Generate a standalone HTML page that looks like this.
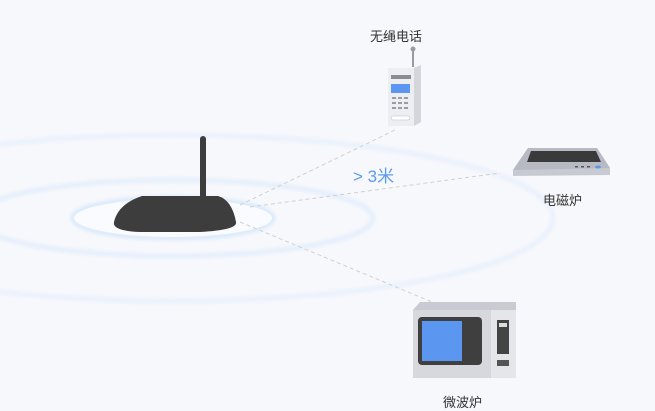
<!DOCTYPE html>
<html><head><meta charset="utf-8"><style>
html,body{margin:0;padding:0;background:#f7f8fc;}
body{width:655px;height:410px;overflow:hidden;position:relative;font-family:"Liberation Sans","Noto Sans CJK SC",sans-serif;}
.l{position:absolute;font-size:13px;color:#333;}
</style></head><body>
<svg width="655" height="410" style="position:absolute;left:0;top:0">
<defs>
<filter id="b" x="-20%" y="-50%" width="140%" height="200%"><feGaussianBlur stdDeviation="2"/></filter>
</defs>
<g fill="none" filter="url(#b)">
<ellipse cx="173" cy="218" rx="380" ry="83" stroke="#e0edfb" stroke-width="3"/>
<ellipse cx="173" cy="218" rx="200" ry="38" stroke="#d8e9fb" stroke-width="3"/>
<ellipse cx="173" cy="218" rx="100" ry="20" stroke="#c6e0f9" stroke-width="3"/>
</g>
<ellipse cx="173" cy="218" rx="99" ry="19" fill="#f9fbfe"/>
<g stroke="#d0d0d0" stroke-dasharray="4,3" stroke-width="1">
<line x1="240" y1="205" x2="395" y2="130"/>
<line x1="250" y1="207" x2="500" y2="173"/>
<line x1="240" y1="222" x2="432" y2="302"/>
</g>
<!-- router -->
<rect x="200" y="136" width="6" height="66" rx="3" fill="#3d3d3d"/>
<path d="M142 196 L218 196 Q232 200 236 222 Q238 230 200 232 L140 232 Q112 231 114 222 Q118 204 142 196Z" fill="#3d3d3d"/>
<!-- phone -->
<rect x="412" y="49" width="2" height="18" fill="#9a9aa4"/><circle cx="413" cy="49" r="2.5" fill="#9a9aa4"/>
<path d="M388 68 L414 68 L421 65 L421 122 L414 126 L388 126Z" fill="#d4d6dc"/>
<rect x="388" y="68" width="26" height="58" fill="#eceef2"/>
<rect x="391" y="75" width="20" height="4" fill="#8a8c94"/>
<rect x="391" y="84" width="19" height="9" fill="#5b97f0"/>
<g fill="#9a9ca4"><rect x="392" y="97" width="4" height="2"/><rect x="398" y="97" width="4" height="2"/><rect x="404" y="97" width="4" height="2"/>
<rect x="392" y="102" width="4" height="2"/><rect x="398" y="102" width="4" height="2"/><rect x="404" y="102" width="4" height="2"/>
<rect x="392" y="107" width="4" height="2"/><rect x="398" y="107" width="4" height="2"/><rect x="404" y="107" width="4" height="2"/></g>
<rect x="391" y="116" width="19" height="4" rx="2" fill="#fff" stroke="#bbb" stroke-width=".5"/>
<!-- stove -->
<path d="M513 170 L528 148 L597 148 L610 168 L610 175 L513 176Z" fill="#c8cad2"/>
<path d="M528 148 L597 148 L610 168 L513 170Z" fill="#b8bac3"/>
<path d="M531 151 L596 151 L601 162 L527 162Z" fill="#3a3a3a"/>
<ellipse cx="598" cy="167" rx="3" ry="1.5" fill="#5b97f0"/>
<g fill="#555"><rect x="575" y="166" width="3" height="1.5"/><rect x="581" y="166" width="3" height="1.5"/><rect x="587" y="166" width="3" height="1.5"/></g>
<!-- microwave -->
<path d="M413 310 L420 302 L516 302 L516 378 L413 378Z" fill="#c9cbd3"/>
<rect x="413" y="310" width="78" height="68" rx="2" fill="#d6d8de"/>
<rect x="491" y="310" width="25" height="68" fill="#e4e6ea"/>
<rect x="418" y="317" width="64" height="48" rx="4" fill="#3f3f3f"/>
<rect x="422" y="321" width="40" height="40" fill="#5b97f0"/>
<rect x="497" y="320" width="12" height="34" fill="#444"/>
<rect x="499" y="323" width="8" height="4" fill="#ddd"/>
<rect x="497" y="360" width="12" height="6" fill="#555"/>
</svg>
<div class="l" style="left:370px;top:26px;">无绳电话</div>
<div class="l" style="left:543px;top:190px;">电磁炉</div>
<div class="l" style="left:443px;top:392px;">微波炉</div>
<div class="l" style="left:353px;top:162px;color:#5b9bf0;font-size:17px;">&gt; 3米</div>
</body></html>
